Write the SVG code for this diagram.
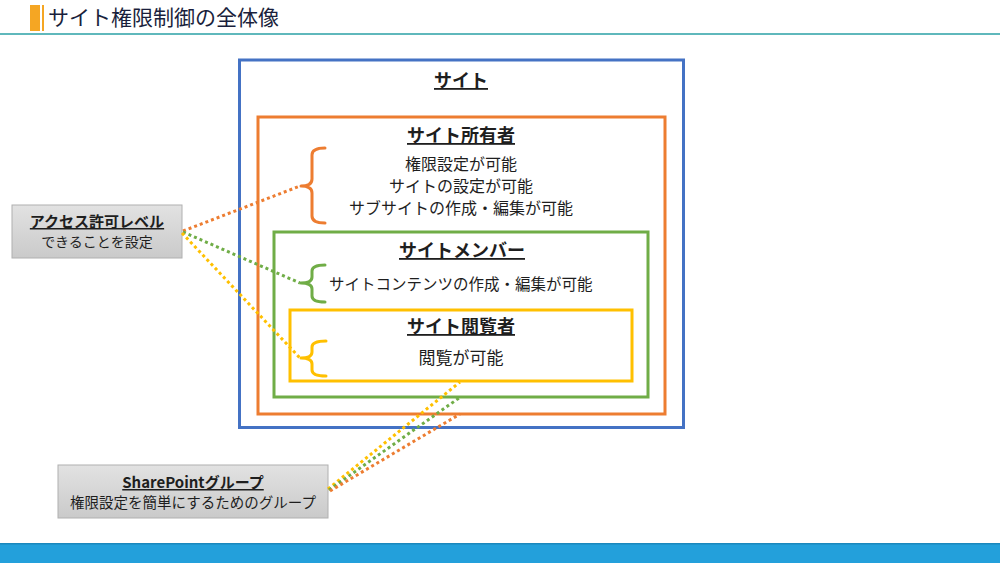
<svg xmlns="http://www.w3.org/2000/svg" width="1000" height="563" viewBox="0 0 1000 563">
<defs>
<linearGradient id="gray" x1="0" y1="0" x2="0" y2="1">
<stop offset="0" stop-color="#e2e2e2"/>
<stop offset="1" stop-color="#cacaca"/>
</linearGradient>
</defs>
<style>
text{font-family:"Noto Sans CJK JP","Noto Sans",sans-serif;fill:#1e1e1e;text-anchor:middle}
.h{font-weight:bold;text-decoration:underline}
.d{font-size:16px}
.box{fill:none;stroke-width:3}
.brace{fill:none;stroke-width:3;stroke-linejoin:round;stroke-linecap:round}
.dot{fill:none;stroke-width:3;stroke-dasharray:3 3}
.o{stroke:#ED7D31}.g{stroke:#70AD47}.y{stroke:#FFC000}.b{stroke:#4472C4}
.gbox{fill:url(#gray);stroke:#b0b0b0;stroke-width:1}
</style>
<rect width="1000" height="563" fill="#ffffff"/>
<g id="header">
<rect x="30" y="5" width="10" height="26" fill="#F5A623"/>
<rect x="42" y="5" width="2" height="26" fill="#F5A623"/>
<text x="48" y="25" style="font-size:21px;text-anchor:start;fill:#1a1f3c">サイト権限制御の全体像</text>
<rect x="0" y="33" width="1000" height="2" fill="#5fb8bc"/>
</g>
<g id="footer">
<rect x="0" y="543" width="1000" height="20" fill="#23a0db"/>
<rect x="0" y="543" width="1000" height="1.5" fill="#1b88bd"/>
</g>
<g id="site">
<rect class="box b" x="239.5" y="60" width="444" height="367.5"/>
<text class="h" x="461" y="87" style="font-size:18px">サイト</text>
</g>
<g id="owner">
<rect class="box o" x="258" y="117" width="407" height="297"/>
<text class="h" x="461" y="142" style="font-size:18px">サイト所有者</text>
<path class="brace o" d="M325,148 Q312,148 312,155 L312,179 Q312,186 301,186 Q312,186 312,193 L312,216 Q312,223 325,223"/>
<text class="d" x="461" y="170">権限設定が可能</text>
<text class="d" x="461" y="192">サイトの設定が可能</text>
<text class="d" x="461" y="214">サブサイトの作成・編集が可能</text>
</g>
<g id="member">
<rect class="box g" x="274" y="232" width="374" height="165"/>
<text class="h" x="462" y="257" style="font-size:18px">サイトメンバー</text>
<path class="brace g" d="M325,265 Q312,265 312,271 L312,277 Q312,283 301,283 Q312,283 312,289 L312,296 Q312,302 325,302"/>
<text class="d" x="329" y="290" style="text-anchor:start;font-size:15.5px">サイトコンテンツの作成・編集が可能</text>
</g>
<g id="reader">
<rect class="box y" x="290" y="310" width="342" height="71"/>
<text class="h" x="461" y="333" style="font-size:18px">サイト閲覧者</text>
<path class="brace y" d="M326,341 Q312,341 312,347 L312,352 Q312,358 301,358 Q312,358 312,364 L312,370 Q312,376 326,376"/>
<text class="d" x="461" y="364" style="font-size:17px">閲覧が可能</text>
</g>
<g id="access-level">
<rect class="gbox" x="12" y="205" width="170" height="53"/>
<text class="h" x="97" y="227" style="font-size:15px">アクセス許可レベル</text>
<text x="97" y="247" style="font-size:14px">できることを設定</text>
</g>
<g id="sp-group">
<rect class="gbox" x="58" y="465" width="270" height="53"/>
<text class="h" x="193" y="488" style="font-size:15px">SharePointグループ</text>
<text x="193" y="508" style="font-size:14.5px">権限設定を簡単にするためのグループ</text>
</g>
<g id="connectors">
<line class="dot o" x1="183" y1="231" x2="300" y2="186"/>
<line class="dot g" x1="183" y1="232" x2="300" y2="283"/>
<line class="dot y" x1="182" y1="233" x2="300" y2="358"/>
<line class="dot y" x1="328" y1="489" x2="460" y2="382"/>
<line class="dot g" x1="329" y1="490" x2="459" y2="398"/>
<line class="dot o" x1="330" y1="491" x2="460" y2="414"/>
</g>
</svg>
